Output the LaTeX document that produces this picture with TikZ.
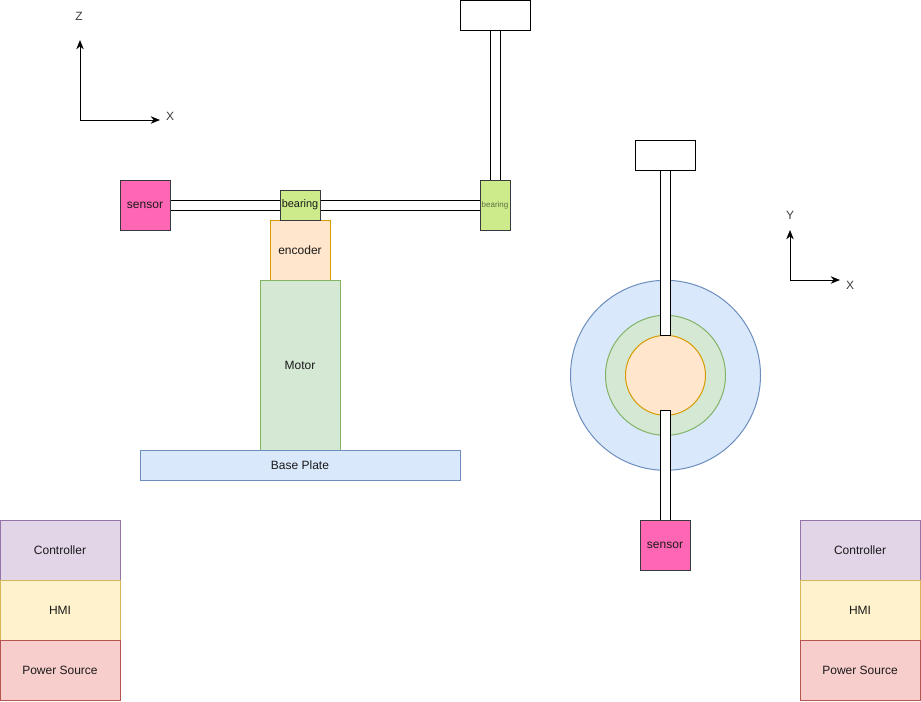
\documentclass[tikz,border=0pt]{standalone}
\usepackage{fontspec}
\setmainfont{Liberation Sans}
\usetikzlibrary{arrows.meta}
\definecolor{bluef}{HTML}{DAE8FC}\definecolor{blued}{HTML}{6C8EBF}
\definecolor{greenf}{HTML}{D5E8D4}\definecolor{greend}{HTML}{82B366}
\definecolor{orangef}{HTML}{FFE6CC}\definecolor{oranged}{HTML}{D79B00}
\definecolor{purplef}{HTML}{E1D5E7}\definecolor{purpled}{HTML}{9673A6}
\definecolor{yellowf}{HTML}{FFF2CC}\definecolor{yellowd}{HTML}{D6B656}
\definecolor{redf}{HTML}{F8CECC}\definecolor{redd}{HTML}{B85450}
\definecolor{pinkf}{HTML}{FF66B3}\definecolor{limef}{HTML}{CDEB8B}
\definecolor{darkd}{HTML}{36393D}\definecolor{txt}{HTML}{1A1A1A}
\definecolor{smalltxt}{HTML}{5F7040}
\tikzset{
  rbox/.style 2 args={draw,rectangle,line width=0.75pt,inner sep=0pt,outer sep=0pt,
    minimum width=#1*0.75pt,minimum height=#2*0.75pt,font=\fontsize{9}{11}\selectfont,text=txt},
  disc/.style={draw,circle,line width=0.75pt,inner sep=0pt,outer sep=0pt,minimum size=#1*0.75pt},
  white box/.style={fill=white,draw=black},
  blue box/.style={fill=bluef,draw=blued},
  green box/.style={fill=greenf,draw=greend},
  orange box/.style={fill=orangef,draw=oranged},
  purple box/.style={fill=purplef,draw=purpled},
  yellow box/.style={fill=yellowf,draw=yellowd},
  red box/.style={fill=redf,draw=redd},
  pink box/.style={fill=pinkf,draw=darkd},
  lime box/.style={fill=limef,draw=darkd},
  axis/.style={line width=0.75pt,-{Stealth[length=7pt,width=5.6pt]}},
  axislabel/.style={inner sep=0pt,font=\fontsize{9}{11}\selectfont,text=txt!85!white}
}
\begin{document}
\begin{tikzpicture}[x=0.75pt,y=-0.75pt]
\useasboundingbox (0,0) rectangle (921,701);
% left view: shafts
\node[rbox={310}{10},white box] (hshaft) at (325,205) {};
\node[rbox={10}{150},white box] (vshaft) at (495,105) {};
\node[rbox={70}{30},white box] (topblock) at (495,15) {};
\node[rbox={50}{50},pink box] (sensorL) at (145,205) {\raisebox{-0.7pt}{sensor}};
\node[rbox={60}{60},orange box] (encoder) at (300,250) {encoder};
\node[rbox={40}{30},lime box,font=\fontsize{8.2}{10}\selectfont] (bearingL) at (300,205) {bearing};
\node[rbox={30}{50},lime box,font=\fontsize{6}{7}\selectfont,text=smalltxt] (bearingR) at (495,205) {bearing};
\node[rbox={80}{170},green box] (motor) at (300,365) {Motor\hspace{2pt}};
\node[rbox={320}{30},blue box] (base) at (300,465) {Base Plate\hspace{2pt}};
% right view
\node[disc=190,blue box] (discB) at (665.5,375.3) {};
\node[disc=120,green box] (discG) at (665.5,375.3) {};
\node[disc=80,orange box] (discO) at (665.5,375.3) {};
\node[rbox={10}{165},white box] (shaftU) at (665,252.5) {};
\node[rbox={60}{30},white box] (topblockR) at (665,155) {};
\node[rbox={10}{110},white box] (shaftD) at (665,465) {};
\node[rbox={50}{50},pink box] (sensorR) at (665,545) {\raisebox{-0.7pt}{sensor}};
% control stacks
\node[rbox={120}{60},purple box] (ctrlL) at (60,550) {Controller};
\node[rbox={120}{60},yellow box] (hmiL) at (60,610) {HMI};
\node[rbox={120}{60},red box] (powerL) at (60,670) {Power Source\hspace{1.5pt}};
\node[rbox={120}{60},purple box] (ctrlR) at (860,550) {Controller};
\node[rbox={120}{60},yellow box] (hmiR) at (860,610) {HMI};
\node[rbox={120}{60},red box] (powerR) at (860,670) {Power Source\hspace{1.5pt}};
% axes
\coordinate (o1) at (80,120);
\coordinate (z1) at (80,40);
\coordinate (x1) at (160,120);
\draw[axis] (o1) -- (z1);
\draw[axis] (o1) -- (x1);
\node[axislabel] (zlabel) at (79,16) {Z};
\node[axislabel] (xlabel1) at (170,116) {X};
\coordinate (o2) at (790,280);
\coordinate (y2) at (790,230);
\coordinate (x2) at (840,280);
\draw[axis] (o2) -- (y2);
\draw[axis] (o2) -- (x2);
\node[axislabel] (ylabel) at (790,215) {Y};
\node[axislabel] (xlabel2) at (850,285) {X};
\end{tikzpicture}
\end{document}
